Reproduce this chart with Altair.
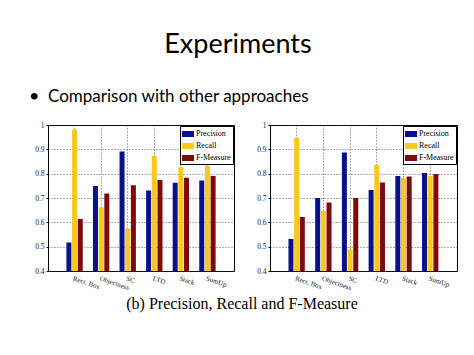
import altair as alt
import pandas as pd

categories = ["Rect. Box", "Objectness", "SC", "LTD", "Stack", "SumUp"]
metrics = ["Precision", "Recall", "F-Measure"]
colors = ["#0a0f8c", "#f8c81c", "#7e0a0a"]
yticks = [0.4, 0.5, 0.6, 0.7, 0.8, 0.9, 1.0]

precision_a = [0.517, 0.749, 0.891, 0.731, 0.763, 0.772]
recall_a = [0.982, 0.662, 0.575, 0.874, 0.826, 0.833]
fmeasure_a = [0.614, 0.718, 0.752, 0.774, 0.783, 0.790]

precision_b = [0.532, 0.700, 0.887, 0.733, 0.790, 0.803]
recall_b = [0.947, 0.647, 0.489, 0.837, 0.782, 0.790]
fmeasure_b = [0.622, 0.681, 0.700, 0.764, 0.788, 0.799]

title_text = ["Experiments"]
bullet_text = ["Comparison with other approaches"]
caption_text = "(b) Precision, Recall and F-Measure"

SERIF = "Liberation Serif"
LEFT = 47  # width reserved for the left y axis


def long_df(p, r, f):
    rows = []
    for i, c in enumerate(categories):
        for m, vals in zip(metrics, [p, r, f]):
            rows.append({"Method": c, "Metric": m, "Value": vals[i]})
    return pd.DataFrame(rows)


def panel(p, r, f, width, min_extent):
    df = long_df(p, r, f)
    return alt.Chart(df).mark_bar(clip=True).encode(
        x=alt.X("Method:N", sort=categories,
                scale=alt.Scale(paddingInner=0, paddingOuter=0.5),
                axis=alt.Axis(title=None, labelAngle=19, labelAlign="left",
                              labelBaseline="top", grid=True, gridDash=[1, 2],
                              gridColor="#333", gridWidth=0.8, ticks=False,
                              domain=False, labelFont=SERIF, labelFontSize=7,
                              labelColor="#222", bandPosition=0.5,
                              labelPadding=3)),
        xOffset=alt.XOffset("Metric:N", sort=metrics,
                            scale=alt.Scale(paddingInner=0.12, paddingOuter=0.9)),
        y=alt.Y("Value:Q",
                scale=alt.Scale(domain=[0.4, 1.0], zero=False, nice=False),
                axis=alt.Axis(title=None, values=yticks, format=".1~f",
                              grid=True, gridDash=[1, 2], gridColor="#333",
                              gridWidth=0.8, tickSize=2, tickColor="#000",
                              domain=False, labelFont=SERIF, labelFontSize=7.5,
                              labelColor="#222", labelPadding=2,
                              minExtent=min_extent, maxExtent=min_extent)),
        color=alt.Color("Metric:N", sort=metrics,
                        scale=alt.Scale(domain=metrics, range=colors),
                        legend=alt.Legend(title=None, orient="top-right",
                                          offset=1, padding=2,
                                          strokeColor="#000", fillColor="#fff",
                                          symbolType="M-1,-0.5H1V0.5H-1Z",
                                          symbolSize=144, symbolStrokeWidth=0,
                                          labelFont=SERIF, labelFontSize=8,
                                          labelColor="#000", rowPadding=2,
                                          labelOffset=2)),
    ).properties(width=width, height=146,
                 view=alt.ViewBackground(stroke="#000", strokeWidth=1))


left = panel(precision_a, recall_a, fmeasure_a, 186, LEFT)
right = panel(precision_b, recall_b, fmeasure_b, 187, 20)

panels = alt.hconcat(left, right, spacing=14).resolve_scale(
    color="independent").resolve_legend(color="independent")

head_title = alt.Chart(pd.DataFrame({"t": title_text})).mark_text(
    font="Lato", fontSize=27, color="#000", align="center",
    baseline="alphabetic").encode(
    x=alt.value(237 - LEFT), y=alt.value(53), text="t:N")
head_bullet = alt.Chart(pd.DataFrame({"t": ["•"]})).mark_text(
    font="Lato", fontSize=18, color="#000", align="left",
    baseline="alphabetic").encode(
    x=alt.value(28 - LEFT), y=alt.value(102), text="t:N")
head_text = alt.Chart(pd.DataFrame({"t": bullet_text})).mark_text(
    font="Lato", fontSize=17, color="#000", align="left",
    baseline="alphabetic").encode(
    x=alt.value(47 - LEFT), y=alt.value(102), text="t:N")

header = alt.layer(head_title, head_bullet, head_text).properties(
    width=380, height=120, view=alt.ViewBackground(stroke=None))

chart = alt.vconcat(header, panels, spacing=0).properties(
    padding=0,
    title=alt.TitleParams(text=caption_text, orient="bottom", anchor="middle",
                          font=SERIF, fontSize=16, fontWeight="normal",
                          color="#000", offset=5, dx=13),
).configure(background="#ffffff")

chart.save("out.html", embed_options={"renderer": "svg", "actions": False})
